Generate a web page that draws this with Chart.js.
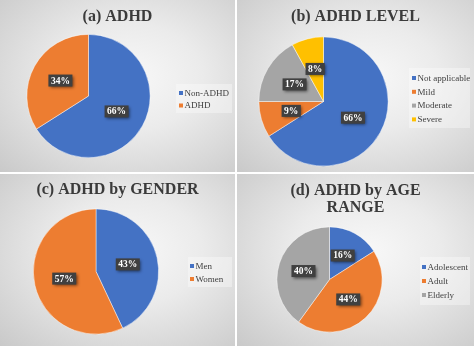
<!DOCTYPE html>
<html>
<head>
<meta charset="utf-8">
<script src="https://cdn.jsdelivr.net/npm/chart.js@4.4.0/dist/chart.umd.min.js"></script>
<style>
  body { margin: 0; background: #fff; width: 474px; height: 346px; position: relative; overflow: hidden; }
  .panel {
    position: absolute;
    background: radial-gradient(ellipse farthest-corner at 55% 45%, #f8f8f8 0%, #ebebeb 40%, #c9c9c9 100%);
  }
  canvas { display: block; }
</style>
</head>
<body>
<div class="panel" style="left:0;top:0;width:235px;height:172px"><canvas id="chartA" width="235" height="172"></canvas></div>
<div class="panel" style="left:237px;top:0;width:237px;height:172px"><canvas id="chartB" width="237" height="172"></canvas></div>
<div class="panel" style="left:0;top:174px;width:235px;height:172px"><canvas id="chartC" width="235" height="172"></canvas></div>
<div class="panel" style="left:237px;top:174px;width:237px;height:172px"><canvas id="chartD" width="237" height="172"></canvas></div>
<script>
// data (percent)
const adhdLabels = ['Non-ADHD', 'ADHD'];
const adhdValues = [66, 34];

const levelLabels = ['Not applicable', 'Mild', 'Moderate', 'Severe'];
const levelValues = [66, 9, 17, 8];

const genderLabels = ['Men', 'Women'];
const genderValues = [43, 57];

const ageLabels = ['Adolescent', 'Adult', 'Elderly'];
const ageValues = [16, 44, 40];

const colors = ['#4472C4', '#ED7D31', '#A5A5A5', '#FFC000'];
const serif = '"Liberation Serif", "Times New Roman", serif';

// draws panel title, the small side legend and the dark percent boxes
const panelDecor = {
  id: 'panelDecor',
  afterDatasetsDraw(chart) {
    const ctx = chart.ctx;
    const meta = chart.getDatasetMeta(0);
    const values = chart.data.datasets[0].data;
    ctx.save();
    ctx.font = 'bold 9.5px ' + serif;
    ctx.textAlign = 'center';
    ctx.textBaseline = 'middle';
    meta.data.forEach(function (arc, i) {
      const p = arc.getProps(['x', 'y', 'startAngle', 'endAngle', 'outerRadius'], true);
      const mid = (p.startAngle + p.endAngle) / 2;
      const x = p.x + Math.cos(mid) * p.outerRadius * 0.52;
      const y = p.y + Math.sin(mid) * p.outerRadius * 0.52;
      const txt = values[i] + '%';
      const w = ctx.measureText(txt).width + 5;
      const h = 12;
      ctx.save();
      ctx.shadowColor = 'rgba(0,0,0,0.55)';
      ctx.shadowBlur = 3;
      ctx.shadowOffsetX = 1.5;
      ctx.shadowOffsetY = 1.5;
      ctx.fillStyle = '#404040';
      ctx.fillRect(x - w / 2, y - h / 2, w, h);
      ctx.restore();
      ctx.fillStyle = '#ffffff';
      ctx.fillText(txt, x, y + 0.5);
    });
    ctx.restore();
  },
  afterDraw(chart, args, opts) {
    const ctx = chart.ctx;
    ctx.save();
    // title
    ctx.fillStyle = '#3b3b3b';
    ctx.font = 'bold 16px ' + serif;
    ctx.textAlign = 'center';
    ctx.textBaseline = 'middle';
    opts.title.forEach(function (line, i) {
      ctx.fillText(line, chart.width / 2, opts.titleY + i * 17);
    });
    // legend
    const b = opts.box;
    ctx.fillStyle = 'rgba(255,255,255,0.35)';
    ctx.fillRect(b[0], b[1], b[2], b[3]);
    ctx.font = '9px ' + serif;
    ctx.textAlign = 'left';
    chart.data.labels.forEach(function (lab, i) {
      const y = opts.legendY + i * opts.legendStep;
      ctx.fillStyle = colors[i];
      ctx.fillRect(opts.legendX - 2, y - 2, 4, 4);
      ctx.fillStyle = '#404040';
      ctx.fillText(lab, opts.legendX + 3.5, y + 0.5);
    });
    ctx.restore();
  }
};

function pieConfig(labels, values, W, H, cx, cy, r, decor) {
  return {
    type: 'pie',
    data: {
      labels: labels,
      datasets: [{
        data: values,
        backgroundColor: colors.slice(0, values.length),
        borderColor: 'rgba(255,255,255,0.6)',
        borderWidth: 0.75
      }]
    },
    options: {
      responsive: false,
      animation: false,
      layout: {
        padding: { left: cx - r, right: W - cx - r, top: cy - r, bottom: H - cy - r }
      },
      plugins: {
        legend: { display: false },
        title: { display: false },
        tooltip: { enabled: false },
        panelDecor: decor
      }
    },
    plugins: [panelDecor]
  };
}

new Chart(document.getElementById('chartA'),
  pieConfig(adhdLabels, adhdValues, 235, 172, 88.5, 96, 62, {
    title: ['(a) ADHD'], titleY: 17,
    legendX: 181, legendY: 93, legendStep: 12.5, box: [176, 84, 56, 29]
  }));

new Chart(document.getElementById('chartB'),
  pieConfig(levelLabels, levelValues, 237, 172, 86.5, 101.5, 65, {
    title: ['(b) ADHD LEVEL'], titleY: 17,
    legendX: 177, legendY: 78, legendStep: 13.8, box: [172, 68, 61, 60]
  }));

new Chart(document.getElementById('chartC'),
  pieConfig(genderLabels, genderValues, 235, 172, 96, 97.5, 63, {
    title: ['(c) ADHD by GENDER'], titleY: 16,
    legendX: 192, legendY: 92, legendStep: 13, box: [188, 83, 44, 30]
  }));

new Chart(document.getElementById('chartD'),
  pieConfig(ageLabels, ageValues, 237, 172, 92.5, 105.5, 53, {
    title: ['(d) ADHD by AGE', 'RANGE'], titleY: 17,
    legendX: 187, legendY: 93, legendStep: 14, box: [183, 83, 50, 48]
  }));
</script>
</body>
</html>
